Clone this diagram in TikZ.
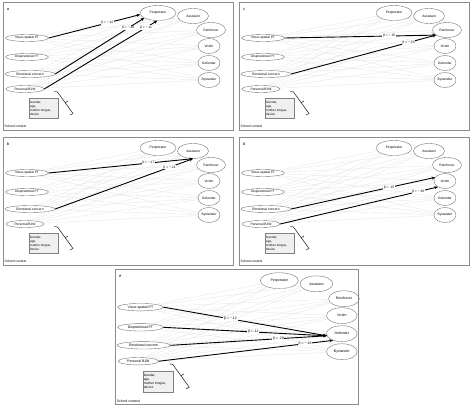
\documentclass[tikz,border=0pt]{standalone}
\usepackage{fontspec}
\newfontfamily\arialf{Liberation Sans}
\usetikzlibrary{shapes.geometric,arrows.meta}
\newcommand\tfont{\arialf\fontsize{3.3}{3.9}\selectfont}
\tikzset{
  panelframe/.style={draw=black!45, line width=0.8pt},
  pred/.style={ellipse, draw=black!55, line width=0.4pt, inner sep=0pt, minimum height=7pt, font=\tfont},
  outc/.style={ellipse, draw=black!55, line width=0.4pt, inner sep=0pt, minimum height=15pt, font=\tfont},
  faint/.style={draw=black!11, line width=0.3pt},
  sig/.style={draw=black, line width=0.9pt, -{Stealth[length=3.5pt,width=3pt]}},
  betalbl/.style={fill=white, inner sep=0.6pt, font=\tfont},
  covbox/.style={draw=black!50, fill=black!6, line width=0.4pt, anchor=north west, align=left, inner sep=1pt, minimum width=29pt, minimum height=20pt, text width=27pt, font=\arialf\fontsize{3.1}{3.8}\selectfont},
  ctxlbl/.style={anchor=west, inner sep=0pt, font=\tfont},
  letterlbl/.style={inner sep=0pt, font=\arialf\fontsize{4}{4}\selectfont},
  bracepath/.style={draw=black!80, line width=0.6pt}
}
\newcommand\drawpanel[3]{%
  \draw[panelframe] (0,0) rectangle (230,128);
  \node[letterlbl] (#1-lt) at (5,7) {#1};
  \node[pred, minimum width=43pt] (#1-vs) at (24,36) {Visuo-spatial PT};
  \node[pred, minimum width=43pt] (#1-dp) at (24,55) {Dispositional PT};
  \node[pred, minimum width=50pt] (#1-ec) at (27,72) {Emotional concern};
  \node[pred, minimum width=38pt] (#1-bjw) at (22,87) {Personal BJW};
  \node[outc, minimum width=36pt] (#1-perp) at (155,11) {Perpetrator};
  \node[outc, minimum width=31pt] (#1-asst) at (190,14) {Assistant};
  \node[outc, minimum width=29pt] (#1-rein) at (#2+2,28) {Reinforcer};
  \node[outc, minimum width=#3] (#1-vict) at (#2,44) {Victim};
  \node[outc, minimum width=#3] (#1-def) at (#2,61) {Defender};
  \node[outc, minimum width=#3] (#1-bys) at (#2,78) {Bystander};
  \foreach \p in {vs,dp,ec,bjw}{\foreach \o in {perp,asst,rein,vict,def,bys}{\draw[faint] (#1-\p) -- (#1-\o);}}
  \node[covbox] (#1-cov) at (26,96) {Gender,\\age,\\mother tongue,\\device};
  \draw[bracepath] (51.5,89.5) -- (54.5,90) -- (70,111.5) -- (67,113);
  \draw[bracepath] (62.2,100.7) -- (65,99);
  \node[ctxlbl] (#1-ctx) at (1.5,124.5) {School context};
}
\begin{document}
\begin{tikzpicture}[x=1pt,y=-1pt]
\useasboundingbox (0,0) rectangle (474,412);
% panel a
\begin{scope}[shift={(3,2)}]
  \drawpanel{a}{206}{22pt}
  \draw[sig] (a-vs.east) -- node[betalbl, pos=0.64] (a-l1) {β = −.12} (a-perp.185);
  \draw[sig] (a-ec.east) -- node[betalbl, pos=0.82] (a-l2) {β = −.40} (a-perp.200);
  \draw[sig] (a-bjw.east) -- node[betalbl, pos=0.90] (a-l3) {β = −.11} (a-perp.265);
\end{scope}
% panel c
\begin{scope}[shift={(239,2)}]
  \drawpanel{c}{206}{22pt}
  \draw[sig] (c-vs.east) -- node[betalbl, pos=0.69] (c-l1) {β = −.15} (c-rein.205);
  \draw[sig] (c-ec.east) -- node[betalbl, pos=0.81] (c-l2) {β = −.33} (c-rein.205);
\end{scope}
% panel b
\begin{scope}[shift={(3,137)}]
  \drawpanel{b}{206}{22pt}
  \draw[sig] (b-vs.east) -- node[betalbl, pos=0.69] (b-l1) {β = −.17} (b-asst.270);
  \draw[sig] (b-ec.east) -- node[betalbl, pos=0.83] (b-l2) {β = −.21} (b-asst.270);
\end{scope}
% panel d
\begin{scope}[shift={(239,137)}]
  \drawpanel{d}{206}{22pt}
  \draw[sig] (d-ec.east) -- node[betalbl, pos=0.68] (d-l1) {β = .15} (d-vict.160);
  \draw[sig] (d-bjw.east) -- node[betalbl, pos=0.875] (d-l2) {β = −.36} (d-vict.220);
\end{scope}
% panel e
\begin{scope}[shift={(115,269)}, scale=1.06, transform shape]
  \drawpanel{e}{214}{29pt}
  \draw[sig] (e-vs.east) -- node[betalbl, pos=0.41] (e-l1) {β = −.12} (e-def.188);
  \draw[sig] (e-dp.east) -- node[betalbl, pos=0.55] (e-l2) {β = .11} (e-def.188);
  \draw[sig] (e-ec.east) -- node[betalbl, pos=0.69] (e-l3) {β = .29} (e-def.188);
  \draw[sig] (e-bjw.east) -- node[betalbl, pos=0.84] (e-l4) {β = −.18} (e-def.217);
\end{scope}
\end{tikzpicture}
\end{document}
